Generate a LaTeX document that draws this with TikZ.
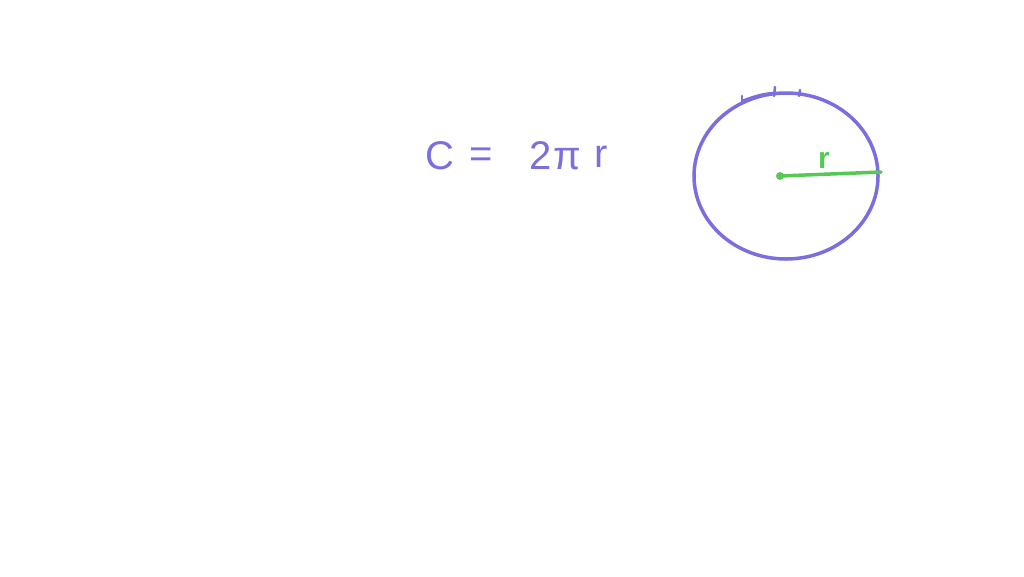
\documentclass[tikz,border=0pt]{standalone}
\usepackage{fontspec}
\setmainfont{Liberation Sans}
\definecolor{pen}{RGB}{123,110,222}
\definecolor{gpen}{RGB}{86,200,86}
\tikzset{
  hand/.style={line width=3.5pt, line cap=round, line join=round},
  lbl/.style={inner sep=0pt, font=\fontsize{40}{44}\selectfont},
}
\begin{document}
\begin{tikzpicture}[x=1pt,y=-1pt]
\useasboundingbox[fill=white] (0,0) rectangle (1024,576);
% formula
\node[lbl, text=pen] (c) at (440,156) {C};
\node[lbl, text=pen] (eq) at (481,158) {=};
\node[lbl, text=pen] (two) at (555,156) {2\kern2ptπ};
\node[lbl, text=pen] (rr) at (601,157) {r};
% circle
\coordinate (o) at (786,176);
\draw[hand, pen] (o) ellipse [x radius=92, y radius=83];
% ticks on top
\draw[hand, pen, line width=2.5pt] (742,104) -- (742,96);
\draw[hand, pen, line width=2.5pt] (742,101) .. controls (755,96) and (765,93) .. (776,93);
\draw[hand, pen, line width=2.5pt] (774,96) -- (775,87);
\draw[hand, pen, line width=2.5pt] (799,96) -- (800,90);
% radius
\coordinate (cen) at (780,176);
\coordinate (edge) at (881,172);
\fill[gpen] (cen) circle (4);
\draw[gpen, line width=3.5pt, line cap=round] (cen) -- (edge);
\node[inner sep=0pt, text=gpen, font=\fontsize{30}{34}\selectfont\bfseries] (rl) at (824,160) {r};
\end{tikzpicture}
\end{document}
